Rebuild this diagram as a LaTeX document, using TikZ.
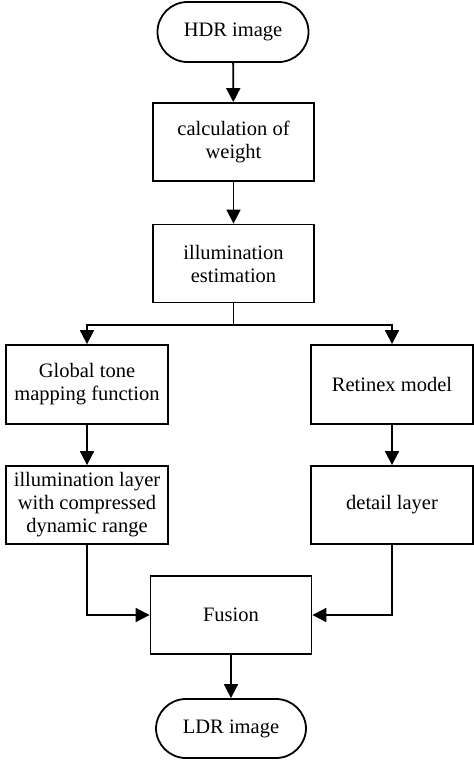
\documentclass[tikz,border=0pt]{standalone}
\usepackage{fontspec}
\setmainfont{Liberation Serif}
\usetikzlibrary{arrows.meta}
\begin{document}
\begin{tikzpicture}[x=1pt,y=-1pt,
  every node/.style={font=\fontsize{20.5}{23}\selectfont, align=center, inner sep=0pt},
  proc/.style={draw, line width=1.8pt, minimum width=161pt, minimum height=78pt},
  term/.style={draw, line width=1.8pt, rounded corners=30pt, minimum width=151pt, minimum height=60pt},
  arr/.style={line width=1.8pt, -{Triangle[width=14pt,length=14pt]}},
  ln/.style={line width=1.8pt}]
\useasboundingbox (0,0) rectangle (474,782);
\node[term] (hdr) at (233,32) {HDR image};
\node[proc] (calc) at (233.5,142) {calculation of\\weight};
\node[proc] (illum) at (233.5,263.5) {illumination\\estimation};
\node[proc, minimum width=162pt, minimum height=79pt] (global) at (87,384.5) {Global tone\\mapping function};
\node[proc, minimum width=162pt, minimum height=79pt] (retinex) at (392,384.5) {Retinex model};
\node[proc, minimum width=162pt, minimum height=78pt] (layer) at (87,505) {illumination layer\\with compressed\\dynamic range};
\node[proc, minimum width=162pt, minimum height=78pt] (detail) at (392,505) {detail layer};
\node[proc, minimum width=161pt, minimum height=78pt] (fusion) at (231,615) {Fusion};
\node[term, minimum width=150pt, minimum height=59pt] (ldr) at (231,728.5) {LDR image};
\coordinate (split) at (233.5,325);
\draw[arr] (hdr) -- (calc);
\draw[arr] (calc) -- (illum);
\draw[ln] (illum.south) -- (split);
\draw[arr] (split) -| (global.north);
\draw[arr] (split) -| (retinex.north);
\draw[arr] (global) -- (layer);
\draw[arr] (retinex) -- (detail);
\draw[arr] (layer.south) |- (fusion.west);
\draw[arr] (detail.south) |- (fusion.east);
\draw[arr] (fusion) -- (ldr);
\end{tikzpicture}
\end{document}
